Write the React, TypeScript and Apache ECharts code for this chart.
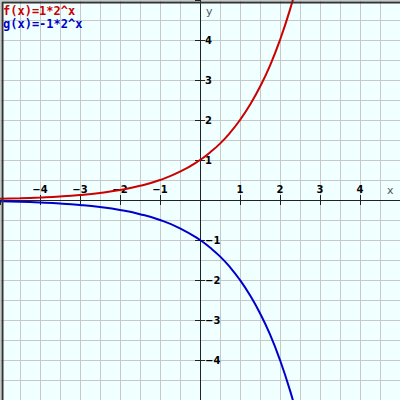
import React, { useEffect, useRef } from 'react';
import * as echarts from 'echarts';

// points
const xs = [-5, -4.5, -4, -3.5, -3, -2.5, -2, -1.5, -1, -0.5, 0, 0.25, 0.5, 0.75, 1, 1.25, 1.5, 1.75, 2, 2.25, 2.5];
const fValues = [0.031, 0.044, 0.063, 0.088, 0.125, 0.177, 0.25, 0.354, 0.5, 0.707, 1, 1.19, 1.41, 1.68, 2, 2.38, 2.83, 3.36, 4, 4.76, 5.66];
const gValues = [-0.031, -0.044, -0.063, -0.088, -0.125, -0.177, -0.25, -0.354, -0.5, -0.707, -1, -1.19, -1.41, -1.68, -2, -2.38, -2.83, -3.36, -4, -4.76, -5.66];

const fLabel = 'f(x)=1*2^x';
const gLabel = 'g(x)=-1*2^x';

const axisMin = -5;
const axisMax = 5;

const fmt = (v: number) => (v === 0 ? '' : String(v).replace('-', '\u2212'));

export default function App() {
  const chartRef = useRef<HTMLDivElement>(null);

  useEffect(() => {
    if (!chartRef.current) return;
    const chart = echarts.init(chartRef.current, null, { renderer: 'svg' });

    const labelStyle = {
      color: '#000',
      fontFamily: 'DejaVu Sans',
      fontWeight: 'bold' as const,
      fontSize: 10,
    };
    const lineStyle = { color: '#222', width: 1 };
    const gridLine = { show: true, lineStyle: { color: '#c8c8c8', width: 1 } };

    const baseAxis = {
      type: 'value' as const,
      min: axisMin,
      max: axisMax,
      interval: 1,
    };
    const hidden = { ...baseAxis, show: false };

    const option = {
      animation: false,
      backgroundColor: '#f0ffff',
      title: {
        text: fLabel,
        subtext: gLabel,
        left: 3,
        top: 5,
        padding: 0,
        itemGap: 1,
        textStyle: { color: '#cc0000', fontFamily: 'DejaVu Sans Mono', fontSize: 12, fontWeight: 'bold', lineHeight: 12 },
        subtextStyle: { color: '#0000cc', fontFamily: 'DejaVu Sans Mono', fontSize: 12, fontWeight: 'bold', lineHeight: 12 },
      },
      grid: [
        // plot area
        { left: 0, right: 0, top: 0, bottom: 0, outerBoundsMode: 'none' },
        // upper half: x tick labels sit on its bottom edge (the zero line)
        { left: 0, right: 0, top: 0, height: 200, outerBoundsMode: 'none' },
        // right half: y tick labels sit on its left edge (the zero line)
        { left: 200, right: 0, top: 0, bottom: 0, outerBoundsMode: 'none' },
      ],
      xAxis: [
        {
          ...baseAxis,
          gridIndex: 0,
          position: 'bottom',
          axisLine: { onZero: true, lineStyle },
          axisTick: { show: true, length: 5, lineStyle },
          axisLabel: { show: false },
          splitLine: gridLine,
          minorTick: { show: false, splitNumber: 2 },
          minorSplitLine: gridLine,
        },
        {
          ...baseAxis,
          gridIndex: 1,
          position: 'bottom',
          axisLine: { show: false, onZero: false },
          axisTick: { show: true, inside: true, length: 5, lineStyle },
          axisLabel: { ...labelStyle, inside: true, margin: 6, showMinLabel: false, showMaxLabel: false, formatter: fmt },
          splitLine: { show: false },
        },
        { ...hidden, gridIndex: 2 },
      ],
      yAxis: [
        {
          ...baseAxis,
          gridIndex: 0,
          position: 'left',
          axisLine: { onZero: true, lineStyle },
          axisTick: { show: true, length: 5, lineStyle },
          axisLabel: { show: false },
          splitLine: gridLine,
          minorTick: { show: false, splitNumber: 2 },
          minorSplitLine: gridLine,
        },
        { ...hidden, gridIndex: 1 },
        {
          ...baseAxis,
          gridIndex: 2,
          position: 'left',
          axisLine: { show: false, onZero: false },
          axisTick: { show: true, inside: true, length: 5, lineStyle },
          axisLabel: { ...labelStyle, inside: true, margin: 5, showMinLabel: false, showMaxLabel: false, formatter: fmt },
          splitLine: { show: false },
        },
      ],
      graphic: [
        {
          type: 'text',
          left: 387,
          top: 185,
          style: { text: 'x', fill: '#555', font: '11px DejaVu Sans' },
        },
        {
          type: 'text',
          left: 206,
          top: 6,
          style: { text: 'y', fill: '#555', font: '11px DejaVu Sans' },
        },
        {
          type: 'rect',
          left: 0,
          top: 0,
          z: 100,
          shape: { x: 0, y: 0, width: 400, height: 400 },
          style: { fill: 'none', stroke: '#333', lineWidth: 2 },
        },
      ],
      series: [
        {
          name: fLabel,
          type: 'line',
          xAxisIndex: 0,
          yAxisIndex: 0,
          data: xs.map((x, i) => [x, fValues[i]]),
          smooth: true,
          showSymbol: false,
          clip: true,
          lineStyle: { color: '#cc0000', width: 2 },
        },
        {
          name: gLabel,
          type: 'line',
          xAxisIndex: 0,
          yAxisIndex: 0,
          data: xs.map((x, i) => [x, gValues[i]]),
          smooth: true,
          showSymbol: false,
          clip: true,
          lineStyle: { color: '#0000cc', width: 2 },
        },
      ],
    };

    chart.setOption(option);
    return () => {
      chart.dispose();
    };
  }, []);

  return (
    <div
      ref={chartRef}
      style={{ position: 'absolute', left: 0, top: 0, width: '400px', height: '400px' }}
    />
  );
}
